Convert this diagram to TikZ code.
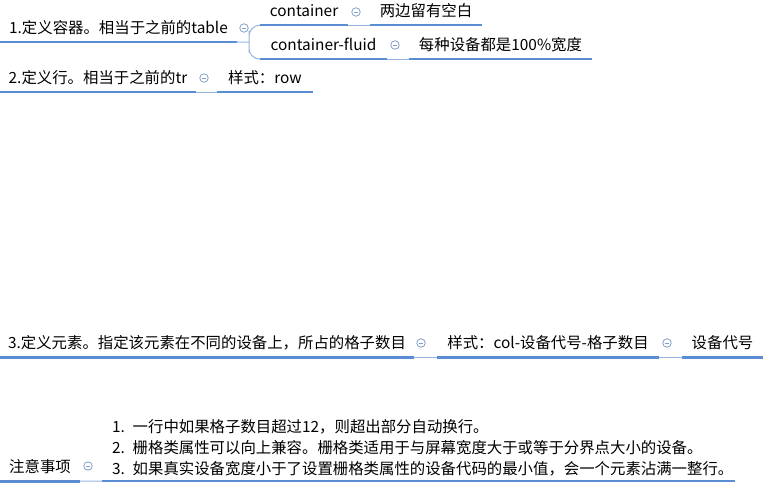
\documentclass[tikz,border=0pt]{standalone}
\usepackage{fontspec}
\usetikzlibrary{positioning}
\newfontfamily\cjk{Noto Sans CJK SC}
\definecolor{lineblue}{RGB}{91,141,212}
\definecolor{linklight}{RGB}{150,180,225}
\definecolor{foldgray}{RGB}{130,158,200}
\tikzstyle{topic} = [rectangle, inner sep=0pt, minimum height=28pt, text centered, text height=13pt, text depth=2.5pt, font=\cjk\fontsize{15.4}{21}\selectfont]
\tikzstyle{note} = [rectangle, inner xsep=10pt, inner ysep=5pt, align=left, font=\cjk\fontsize{15.4}{21}\selectfont]
\tikzstyle{uline} = [draw=lineblue, line width=2.6pt]
\tikzstyle{link} = [draw=linklight, line width=1pt]
\tikzstyle{fold} = [circle, draw=foldgray, line width=0.8pt, minimum size=8.5pt, inner sep=0pt,
  path picture={\draw[foldgray, line width=0.8pt] ([xshift=-2.2pt]path picture bounding box.center) -- ([xshift=2.2pt]path picture bounding box.center);}]

\begin{document}
\begin{tikzpicture}[x=1pt, y=-1pt]
\useasboundingbox (0,0) rectangle (766,484);

% row 1
\node (def1) [topic, minimum width=237pt] at (118.5,28) {1.定义容器。相当于之前的table};
\node (fold1) [fold] at (244,28) {};
\node (cont) [topic, minimum width=88pt] at (304,11) {container};
\node (fold11) [fold] at (356,12) {};
\node (contnote) [topic, minimum width=112pt] at (426,11) {两边留有空白};
\node (fluid) [topic, minimum width=127pt] at (323.5,45) {container-fluid};
\node (fold12) [fold] at (395,45) {};
\node (fluidnote) [topic, minimum width=183pt] at (500.5,45) {每种设备都是100\%宽度};
\coordinate (brace) at (249,42);

% row 2
\node (def2) [topic, minimum width=196pt] at (98,78) {2.定义行。相当于之前的tr};
\node (fold2) [fold] at (204,78) {};
\node (row) [topic, minimum width=96pt] at (265,78) {样式：row};

% row 3
\node (def3) [topic, minimum width=414pt] at (207,343) {3.定义元素。指定该元素在不同的设备上，所占的格子数目};
\node (fold3) [fold] at (421,343) {};
\node (col) [topic, minimum width=222pt] at (548,343) {样式：col-设备代号-格子数目};
\node (fold31) [fold] at (667,343) {};
\node (code) [topic, minimum width=81pt] at (722.5,343) {设备代号};

% row 4
\node (tips) [topic, minimum width=80pt] at (40,467) {注意事项};
\node (fold4) [fold] at (88,466) {};
\node (tipsnote) [note, anchor=south west, text width=613pt] at (102,481) {1. 一行中如果格子数目超过12，则超出部分自动换行。\\
2. 栅格类属性可以向上兼容。栅格类适用于与屏幕宽度大于或等于分界点大小的设备。\\
3. 如果真实设备宽度小于了设置栅格类属性的设备代码的最小值，会一个元素沾满一整行。};

% underlines
\foreach \n in {def1,cont,contnote,fluid,fluidnote,def2,row,def3,col,code,tips,tipsnote}
  \draw [uline] (\n.south west) -- (\n.south east);

% links
\draw [link] (def1.south east) -- (brace);
\draw [link, rounded corners=11pt] (cont.south west) -| (brace) |- (fluid.south west);
\draw [link] (cont.south east) -- (contnote.south west);
\draw [link] (fluid.south east) -- (fluidnote.south west);
\draw [link] (def2.south east) -- (row.south west);
\draw [link] (def3.south east) -- (col.south west);
\draw [link] (col.south east) -- (code.south west);
\draw [link] (tips.south east) -- (tipsnote.south west);

\end{tikzpicture}
\end{document}
